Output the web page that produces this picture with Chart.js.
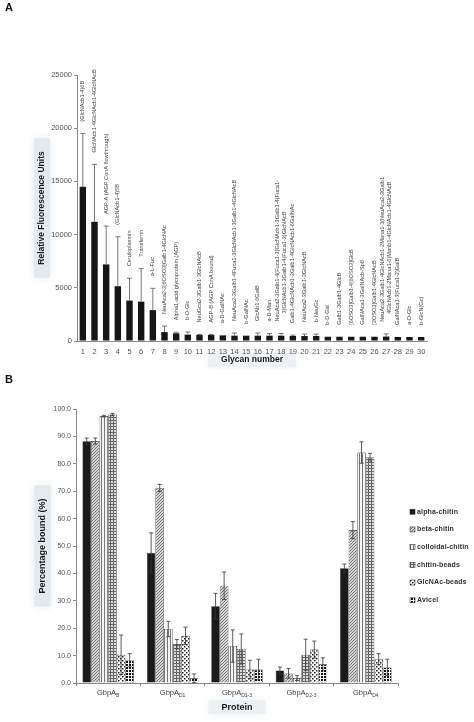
<!DOCTYPE html>
<html>
<head>
<meta charset="utf-8">
<script src="https://cdn.jsdelivr.net/npm/chart.js@4.4.1/dist/chart.umd.min.js"></script>
<style>
  body { margin: 0; background: #fff; width: 474px; height: 722px; position: relative; overflow: hidden; font-family: Arial, "Liberation Sans", sans-serif; }
  .panel { position: absolute; left: 0; width: 474px; }
  #wrapA { top: 0; height: 370px; }
  #wrapB { top: 370px; height: 352px; }
  .tag { position: absolute; left: 5px; font-weight: bold; font-size: 11px; color: #111; z-index: 2; }
</style>
</head>
<body>
<div class="tag" style="top:1px">A</div>
<div class="tag" style="top:373px">B</div>
<div id="wrapA" class="panel"><canvas id="chartA" width="474" height="370"></canvas></div>
<div id="wrapB" class="panel"><canvas id="chartB" width="474" height="352"></canvas></div>
<script>
// ---- panel A data ----
const glycanNumbers = ['1', '2', '3', '4', '5', '6', '7', '8', '9', '10', '11', '12', '13', '14', '15',
  '16', '17', '18', '19', '20', '21', '22', '23', '24', '25', '26', '27', '28', '29', '30'];
const glycanNames = [
  '(GlcNAcb1-4)6B',
  'GlcNAcb1-4GlcNAcb1-4GlcNAcB',
  'AGP-A (AGP ConA flowthrough)',
  '(GlcNAcb1-4)5B',
  'Ceruloplasmin',
  'Transferrin',
  'a-L-Fuc',
  'NeuAca2-3[6OSO3]Galb1-4GlcNAc',
  'Alpha1-acid glycoprotein (AGP)',
  'b-D-Glc',
  'NeuGca2-3Galb1-3GlcNAcB',
  'AGP-B (AGP ConA bound)',
  'a-D-GalNAc',
  'NeuAca2-3Galb1-4Fuca1-3GlcNAcb1-3Galb1-4GlcNAcB',
  'b-GalNAc',
  'GlcAb1-6GalB',
  'a-D-Man',
  ['NeuAca2-3Galb1-4(Fuca1-3)GlcNAcb1-3Galb1-4(Fuca1-', '3)GlcNAcb1-3Galb1-4(Fuca1-3)GlcNAcB'],
  'Galb1-4GlcNAcb1-3Galb1-4GlcNAcb1-6GalNAc',
  'NeuAca2-3Galb1-3GlcNAcB',
  'b-NeuGc',
  'b-D-Gal',
  'Galb1-3Galb1-4GlcB',
  '[6OSO3]Galb1-4[6OSO3]GlcB',
  'GalNAca1-3GalNAcb-Sp8',
  '[3OSO3]Galb1-4GlcNAcB',
  ['NeuAca2-3Galb1-4GlcNAcb1-2Mana1-3(NeuAca2-3Galb1', '4GlcNAcb1-2Mana1-6)Manb1-4GlcNAcb1-4GlcNAcB'],
  'GalNAca1-3(Fuca1-2)GalB',
  'a-D-Glc',
  'b-GlcN(Gc)'
];
const rfu = [14500, 11200, 7200, 5150, 3800, 3700, 2900, 840, 720, 600, 560, 560, 530, 500, 500,
  500, 500, 500, 470, 470, 470, 400, 400, 400, 400, 400, 420, 380, 380, 380];
const rfuErr = [5000, 5400, 3600, 4650, 2100, 3100, 2050, 560, 100, 250, 50, 50, 0, 250, 0,
  250, 200, 200, 80, 180, 180, 0, 0, 0, 0, 0, 250, 0, 0, 0];

// ---- panel B data ----
const proteins = ['GbpA_B', 'GbpA_D1', 'GbpA_D1-3', 'GbpA_D2-3', 'GbpA_D4'];
const substrates = ['alpha-chitin', 'beta-chitin', 'colloidal-chitin', 'chitin-beads', 'GlcNAc-beads', 'Avicel'];
const alphaChitin = [88.2, 47.5, 28.0, 4.6, 41.9];
const alphaChitinErr = [1.2, 7.3, 4.7, 1.2, 1.5];
const betaChitin = [88.3, 71.2, 35.5, 3.5, 55.8];
const betaChitinErr = [1.1, 1.3, 5.0, 1.8, 3.1];
const colloidalChitin = [97.4, 19.7, 13.5, 1.8, 84.1];
const colloidalChitinErr = [0.3, 2.8, 5.9, 0.9, 3.9];
const chitinBeads = [98.0, 14.2, 12.4, 10.3, 82.4];
const chitinBeadsErr = [0.4, 1.7, 5.5, 5.7, 1.4];
const glcnacBeads = [10.3, 17.2, 4.9, 12.2, 8.7];
const glcnacBeadsErr = [7.2, 3.2, 3.4, 3.1, 2.0];
const avicel = [8.3, 1.7, 4.9, 6.8, 5.7];
const avicelErr = [2.4, 1.6, 3.8, 2.4, 3.0];

const FONT = 'Arial, "Liberation Sans", sans-serif';
const AXIS_GREY = '#8a8a8a';

// error whiskers, read from dataset.errors
const errorBars = {
  id: 'errorBars',
  afterDatasetsDraw(chart, args, opts) {
    const { ctx } = chart;
    const y = chart.scales.y;
    ctx.save();
    ctx.strokeStyle = opts.color;
    ctx.lineWidth = opts.lineWidth;
    chart.data.datasets.forEach((ds, di) => {
      const meta = chart.getDatasetMeta(di);
      meta.data.forEach((bar, i) => {
        const e = ds.errors[i];
        if (!e) return;
        const v = ds.data[i];
        const top = y.getPixelForValue(v + e);
        const bot = opts.symmetric ? y.getPixelForValue(Math.max(0, v - e)) : bar.y;
        const half = opts.cap / 2;
        ctx.beginPath();
        ctx.moveTo(bar.x, bot);
        ctx.lineTo(bar.x, top);
        ctx.moveTo(bar.x - half, top);
        ctx.lineTo(bar.x + half, top);
        if (opts.symmetric) {
          ctx.moveTo(bar.x - half, bot);
          ctx.lineTo(bar.x + half, bot);
        }
        ctx.stroke();
      });
    });
    ctx.restore();
  }
};

// soft box behind axis titles
const titleShade = {
  id: 'titleShade',
  beforeDraw(chart) {
    const { ctx, chartArea } = chart;
    ctx.save();
    ctx.fillStyle = '#e3e9ed';
    ctx.shadowColor = '#e3e9ed';
    ctx.shadowBlur = 8;
    const ys = chart.scales.y;
    const yt = ys.options.title;
    const yx = ys.left + yt.font.size * 0.6 + yt.padding.top;
    const yc = (chartArea.top + chartArea.bottom) / 2;
    ctx.font = 'bold ' + yt.font.size + 'px ' + FONT;
    const yw = ctx.measureText(yt.text).width + 26;
    ctx.fillRect(yx - 8, yc - yw / 2, 16, yw);
    const xs = chart.scales.x;
    const xt = xs.options.title;
    const xy = xs.bottom - xt.font.size * 0.6 - xt.padding.bottom;
    const xc = (chartArea.left + chartArea.right) / 2;
    ctx.font = 'bold ' + xt.font.size + 'px ' + FONT;
    const xw = ctx.measureText(xt.text).width + 26;
    ctx.fillStyle = '#edf1f3';
    ctx.shadowColor = '#edf1f3';
    ctx.fillRect(xc - xw / 2, xy - 7, xw, 14);
    ctx.restore();
  }
};

// rotated glycan names above each bar
const glycanLabels = {
  id: 'glycanLabels',
  afterDatasetsDraw(chart) {
    const { ctx } = chart;
    const y = chart.scales.y;
    const meta = chart.getDatasetMeta(0);
    ctx.save();
    ctx.font = '5.6px ' + FONT;
    ctx.fillStyle = '#444';
    ctx.textBaseline = 'middle';
    ctx.textAlign = 'left';
    meta.data.forEach((bar, i) => {
      const lines = [].concat(glycanNames[i]);
      const start = y.getPixelForValue(rfu[i] + rfuErr[i]) - 12;
      ctx.save();
      ctx.translate(bar.x, start);
      ctx.rotate(-Math.PI / 2);
      lines.forEach((t, li) => {
        const off = (li - (lines.length - 1) / 2) * 6.5;
        ctx.fillText(t, li ? 8 : 0, off);
      });
      ctx.restore();
    });
    ctx.restore();
  }
};

new Chart(document.getElementById('chartA'), {
  type: 'bar',
  data: {
    labels: glycanNumbers,
    datasets: [{
      label: 'RFU',
      data: rfu,
      errors: rfuErr,
      backgroundColor: '#161616',
      barPercentage: 0.55,
      categoryPercentage: 1.0
    }]
  },
  options: {
    responsive: false,
    animation: false,
    layout: { padding: { top: 75, right: 47, left: 0, bottom: 0 } },
    plugins: {
      legend: { display: false },
      tooltip: { enabled: false },
      errorBars: { color: '#6a6a6a', lineWidth: 0.9, cap: 5, symmetric: false }
    },
    scales: {
      x: {
        afterFit: s => { s.height = 29; },
        grid: { display: true, drawOnChartArea: false, drawTicks: false },
        border: { color: AXIS_GREY, width: 1 },
        ticks: { color: '#555', font: { size: 7.5, family: FONT }, padding: 6, autoSkip: false, maxRotation: 0 },
        title: { display: true, text: 'Glycan number', color: '#1a1a1a', font: { size: 8.5, weight: 'bold', family: FONT }, padding: { top: 0, bottom: 5 } }
      },
      y: {
        min: 0,
        max: 25000,
        afterFit: s => { s.width = 77; },
        grid: { drawOnChartArea: false, tickLength: 3, color: AXIS_GREY },
        border: { color: AXIS_GREY, width: 1 },
        ticks: { stepSize: 5000, color: '#555', font: { size: 7.5, family: FONT }, padding: 2, callback: v => String(v) },
        title: { display: true, text: 'Relative Fluorescence Units', color: '#1a1a1a', font: { size: 8.5, weight: 'bold', family: FONT }, padding: { top: 37, bottom: 0 } }
      }
    }
  },
  plugins: [titleShade, errorBars, glycanLabels]
});

// ---- panel B ----
function makePattern(size, draw) {
  const c = document.createElement('canvas');
  c.width = size;
  c.height = size;
  const g = c.getContext('2d');
  draw(g);
  return document.getElementById('chartB').getContext('2d').createPattern(c, 'repeat');
}
const fills = [
  '#1a1a1a',
  makePattern(3, g => { g.fillStyle = '#d4d4d4'; g.fillRect(0, 0, 3, 3); g.fillStyle = '#7a7a7a'; g.fillRect(0, 2, 1, 1); g.fillRect(1, 1, 1, 1); g.fillRect(2, 0, 1, 1); }),
  makePattern(3, g => { g.fillStyle = '#f4f4f4'; g.fillRect(0, 0, 3, 3); g.fillStyle = '#777'; g.fillRect(2, 0, 1, 3); }),
  makePattern(3, g => { g.fillStyle = '#dcdcdc'; g.fillRect(0, 0, 3, 3); g.fillStyle = '#666'; g.fillRect(0, 2, 3, 1); g.fillRect(2, 0, 1, 3); }),
  makePattern(4, g => { g.fillStyle = '#fff'; g.fillRect(0, 0, 4, 4); g.fillStyle = '#222'; g.fillRect(0, 0, 1.5, 1.5); g.fillRect(2, 2, 1.5, 1.5); }),
  makePattern(3, g => { g.fillStyle = '#fff'; g.fillRect(0, 0, 3, 3); g.fillStyle = '#111'; g.fillRect(0, 0, 2, 2); })
];
const seriesB = [alphaChitin, betaChitin, colloidalChitin, chitinBeads, glcnacBeads, avicel];
const errorsB = [alphaChitinErr, betaChitinErr, colloidalChitinErr, chitinBeadsErr, glcnacBeadsErr, avicelErr];

// category labels with subscripts
const proteinTicks = {
  id: 'proteinTicks',
  afterDraw(chart) {
    const { ctx } = chart;
    const x = chart.scales.x;
    ctx.save();
    ctx.fillStyle = '#444';
    ctx.textBaseline = 'middle';
    ctx.textAlign = 'left';
    proteins.forEach((p, i) => {
      const [main, sub] = p.split('_');
      ctx.font = '7.5px ' + FONT;
      const wMain = ctx.measureText(main).width;
      ctx.font = '5px ' + FONT;
      const wSub = ctx.measureText(sub).width;
      const cx = x.getPixelForValue(i);
      const left = cx - (wMain + wSub) / 2;
      const cy = x.top + 10;
      ctx.font = '7.5px ' + FONT;
      ctx.fillText(main, left, cy);
      ctx.font = '5px ' + FONT;
      ctx.fillText(sub, left + wMain, cy + 2.5);
    });
    ctx.restore();
  }
};

// legend on the right
const sideLegend = {
  id: 'sideLegend',
  afterDraw(chart) {
    const { ctx, chartArea } = chart;
    const step = 17.7;
    const x0 = chartArea.right + 12;
    const y0 = (chartArea.top + chartArea.bottom) / 2 + 10 - step * (chart.data.datasets.length - 1) / 2;
    ctx.save();
    ctx.font = 'bold 7px ' + FONT;
    ctx.textBaseline = 'middle';
    ctx.textAlign = 'left';
    if ('letterSpacing' in ctx) ctx.letterSpacing = '0.15px';
    chart.data.datasets.forEach((ds, i) => {
      const yy = y0 + i * step;
      ctx.fillStyle = ds.backgroundColor;
      ctx.fillRect(x0, yy - 2.5, 5, 5);
      ctx.strokeStyle = '#333';
      ctx.lineWidth = 0.6;
      ctx.strokeRect(x0, yy - 2.5, 5, 5);
      ctx.fillStyle = '#333';
      ctx.fillText(ds.label, x0 + 7, yy);
    });
    ctx.restore();
  }
};

new Chart(document.getElementById('chartB'), {
  type: 'bar',
  data: {
    labels: proteins,
    datasets: substrates.map((s, i) => ({
      label: s,
      data: seriesB[i],
      errors: errorsB[i],
      backgroundColor: fills[i],
      borderColor: '#222',
      borderWidth: 0.6,
      barPercentage: 1.0,
      categoryPercentage: 0.8
    }))
  },
  options: {
    responsive: false,
    animation: false,
    layout: { padding: { top: 39, right: 76, left: 0, bottom: 0 } },
    plugins: {
      legend: { display: false },
      tooltip: { enabled: false },
      errorBars: { color: '#333', lineWidth: 0.8, cap: 4, symmetric: true }
    },
    scales: {
      x: {
        afterFit: s => { s.height = 39; },
        grid: { drawOnChartArea: false, tickLength: 3, color: AXIS_GREY, offset: true },
        border: { color: AXIS_GREY, width: 1 },
        ticks: { display: false },
        title: { display: true, text: 'Protein', color: '#1a1a1a', font: { size: 9, weight: 'bold', family: FONT }, padding: { top: 0, bottom: 9.5 } }
      },
      y: {
        min: 0,
        max: 100,
        afterFit: s => { s.width = 76; },
        grid: { drawOnChartArea: false, tickLength: 3, color: AXIS_GREY },
        border: { color: AXIS_GREY, width: 1 },
        ticks: { stepSize: 10, color: '#555', font: { size: 7, family: FONT }, padding: 2, callback: v => v.toFixed(1) },
        title: { display: true, text: 'Percentage bound (%)', color: '#1a1a1a', font: { size: 9, weight: 'bold', family: FONT }, padding: { top: 37, bottom: 0 } }
      }
    }
  },
  plugins: [titleShade, errorBars, proteinTicks, sideLegend]
});
</script>
</body>
</html>
